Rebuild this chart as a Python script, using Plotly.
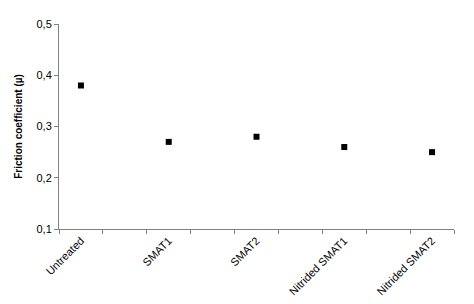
import plotly.graph_objects as go

categories = ["Untreated", "SMAT1", "SMAT2", "Nitrided SMAT1", "Nitrided SMAT2"]
friction = [0.38, 0.27, 0.28, 0.26, 0.25]
y_ticks = [0.1, 0.2, 0.3, 0.4, 0.5]

x_pos = list(range(len(categories)))

fig = go.Figure()
fig.add_trace(go.Scatter(
    x=x_pos, y=friction, mode="markers",
    marker=dict(symbol="square", size=6, color="black"),
    showlegend=False,
))

fig.update_layout(
    width=474, height=304,
    margin=dict(l=59, r=20, t=24, b=75),
    paper_bgcolor="white", plot_bgcolor="white",
    separators=", ",
    font=dict(family="Liberation Sans, Arial, sans-serif", size=10, color="black"),
    xaxis=dict(
        range=[-0.25, len(categories) - 0.75],
        tickmode="array", tickvals=x_pos, ticktext=categories,
        tickangle=-45, ticks="", showgrid=False, zeroline=False,
        showline=True, linecolor="#808080", linewidth=1,
        minor=dict(tickmode="linear", tick0=-0.25, dtick=0.5,
                   ticks="outside", ticklen=4, tickcolor="#808080", showgrid=False),
        tickfont=dict(size=11), automargin=False,
    ),
    yaxis=dict(
        range=[0.1, 0.5], tickmode="array", tickvals=y_ticks,
        ticktext=[f"{v:.1f}".replace(".", ",") for v in y_ticks],
        ticks="outside", ticklen=4, tickcolor="#808080",
        showgrid=False, zeroline=False,
        showline=True, linecolor="#808080", linewidth=1,
        tickfont=dict(size=11), automargin=False,
        title=dict(text="<b>Friction coefficient (µ)</b>", font=dict(size=10), standoff=12),
    ),
)

fig.write_html("out.html")
